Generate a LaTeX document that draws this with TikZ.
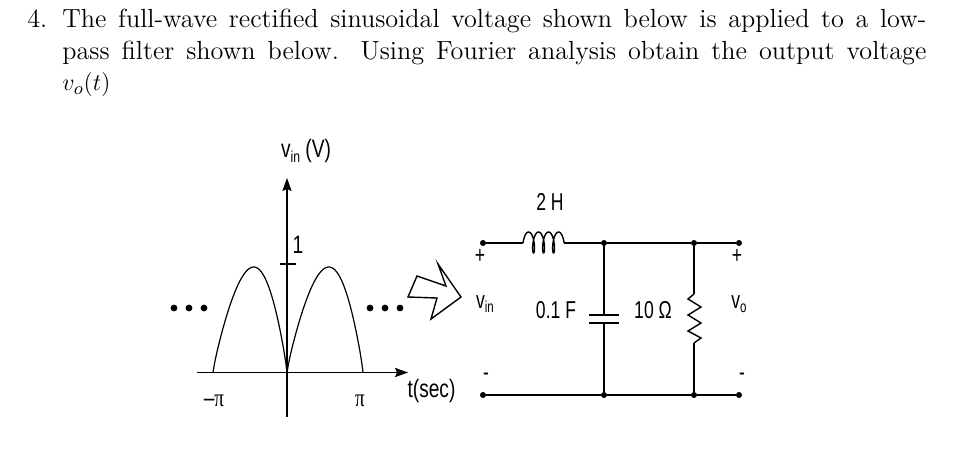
\documentclass[tikz,border=0pt]{standalone}
\usepackage{amsmath}
\usepackage{fontspec}
\usepackage{tikz}
\usetikzlibrary{arrows.meta}
\newfontfamily\lblfont{Liberation Sans}
\newfontfamily\pifont{Liberation Serif}
\newcommand{\subs}[1]{\raisebox{-0.35ex}{\fontsize{8}{9}\selectfont #1}}
\tikzset{
	wire/.style={line width=0.7pt},
	axis/.style={line width=0.7pt, -{Stealth[length=6.5pt,width=4.6pt,inset=1pt]}},
	wave/.style={line width=0.6pt},
	lbl/.style={font=\lblfont\fontsize{12.2}{14}\selectfont, inner sep=0pt, xscale=0.72, transform shape},
	biglbl/.style={font=\lblfont\fontsize{12.6}{14}\selectfont, inner sep=0pt, xscale=0.76, transform shape},
	junct/.style={circle, fill=black, inner sep=0pt, minimum size=3pt},
	blob/.style={circle, fill=black, inner sep=0pt, minimum size=3.4pt},
	txt/.style={font=\fontsize{13.1}{15.75}\selectfont, inner sep=0pt, anchor=north west}
}
\begin{document}
\begin{tikzpicture}[x=0.5pt,y=-0.5pt]
\useasboundingbox (0,0) rectangle (973,467);

% question text
\node[txt] (num) at (27,9) {4.};
\node[txt, text width=432pt, align=justify] (question) at (62,9) {The full-wave rectified sinusoidal voltage shown below is applied to a low-\linebreak pass filter shown below. Using Fourier analysis obtain the output voltage\linebreak $v_o(t)$};

% axes
\coordinate (tl) at (197,372.5);
\coordinate (tr) at (408,372.5);
\coordinate (vb) at (287,417);
\coordinate (vt) at (287,178);
\draw[axis] (tl) -- (tr);
\draw[axis] (vb) -- (vt);
\coordinate (tickl) at (280,264);
\coordinate (tickr) at (296,264);
\draw[wire] (tickl) -- (tickr);

% rectified wave
\draw[wave] plot[domain=0:180, samples=60] ({213+74*(\x/180+0.05*sin(\x))},{372.5-105.5*(sin(\x)+0.0001)^0.85});
\draw[wave] plot[domain=0:180, samples=60] ({287+76*(\x/180+0.05*sin(\x))},{372.5-105.5*(sin(\x)+0.0001)^0.85});

\foreach \x in {174,189,204,370,385,400}
{	\node[blob] (dot\x) at (\x,308) {};
}

\node[biglbl] (vlabel) at (306,151) {v\subs{in} (V)};
\node[biglbl] (one) at (298,245) {1};
\node[biglbl] (mpi) at (214,401) {–{\pifont π}};
\node[biglbl] (ppi) at (360,401) {{\pifont π}};
\node[biglbl] (tlabel) at (431.5,391) {t(sec)};

% block arrow
\draw[wire] (417,276) -- (446,286) -- (438,264) -- (461,297) -- (431,319) -- (437,298) -- (408,297) -- cycle;

% circuit
\node[junct] (a) at (483,243) {};
\node[junct] (b) at (604,243) {};
\node[junct] (c) at (694,243) {};
\node[junct] (d) at (739,243) {};
\node[junct] (e) at (483,395) {};
\node[junct] (f) at (604,395) {};
\node[junct] (g) at (694,395) {};
\node[junct] (h) at (739,395) {};

\coordinate (la) at (523,243);
\coordinate (lb) at (564,243);
\coordinate (ca) at (604,315);
\coordinate (cb) at (604,323);
\coordinate (pa) at (589,315);
\coordinate (pb) at (619,315);
\coordinate (qa) at (589,323);
\coordinate (qb) at (619,323);
\coordinate (ra) at (694,294);
\coordinate (rb) at (694,343);

\draw[wire] (a) -- (la);
\draw[wire] plot[domain=87:1353, samples=160] ({523.59+1.59*rad(\x)-3*sin(\x)},{242.5+10.5*cos(\x)});
\draw[wire] (lb) -- (b);
\draw[wire] (b) -- (c);
\draw[wire] (c) -- (d);
\draw[wire] (e) -- (f);
\draw[wire] (f) -- (g);
\draw[wire] (g) -- (h);
\draw[wire] (b) -- (ca);
\draw[wire] (cb) -- (f);
\draw[wire] (pa) -- (pb);
\draw[wire] (qa) -- (qb);
\draw[wire] (c) -- (ra);
\draw[wire] (ra) -- (688,299) -- (701,307) -- (688,315) -- (701,323) -- (688,331) -- (701,338) -- (rb);
\draw[wire] (rb) -- (g);

\node[lbl] (ltext) at (550,202) {2 H};
\node[lbl] (cval) at (556,310) {0.1 F};
\node[lbl] (rval) at (653,310) {10 Ω};
\node[lbl] (vin) at (485,304) {v\subs{in}};
\node[lbl] (vo) at (739,304) {v\subs{o}};
\node[lbl] (pl) at (480,256) {+};
\node[lbl] (pr) at (737,256) {+};
\node[lbl] (ml) at (486,377) {-};
\node[lbl] (mr) at (742,377) {-};

\end{tikzpicture}
\end{document}
